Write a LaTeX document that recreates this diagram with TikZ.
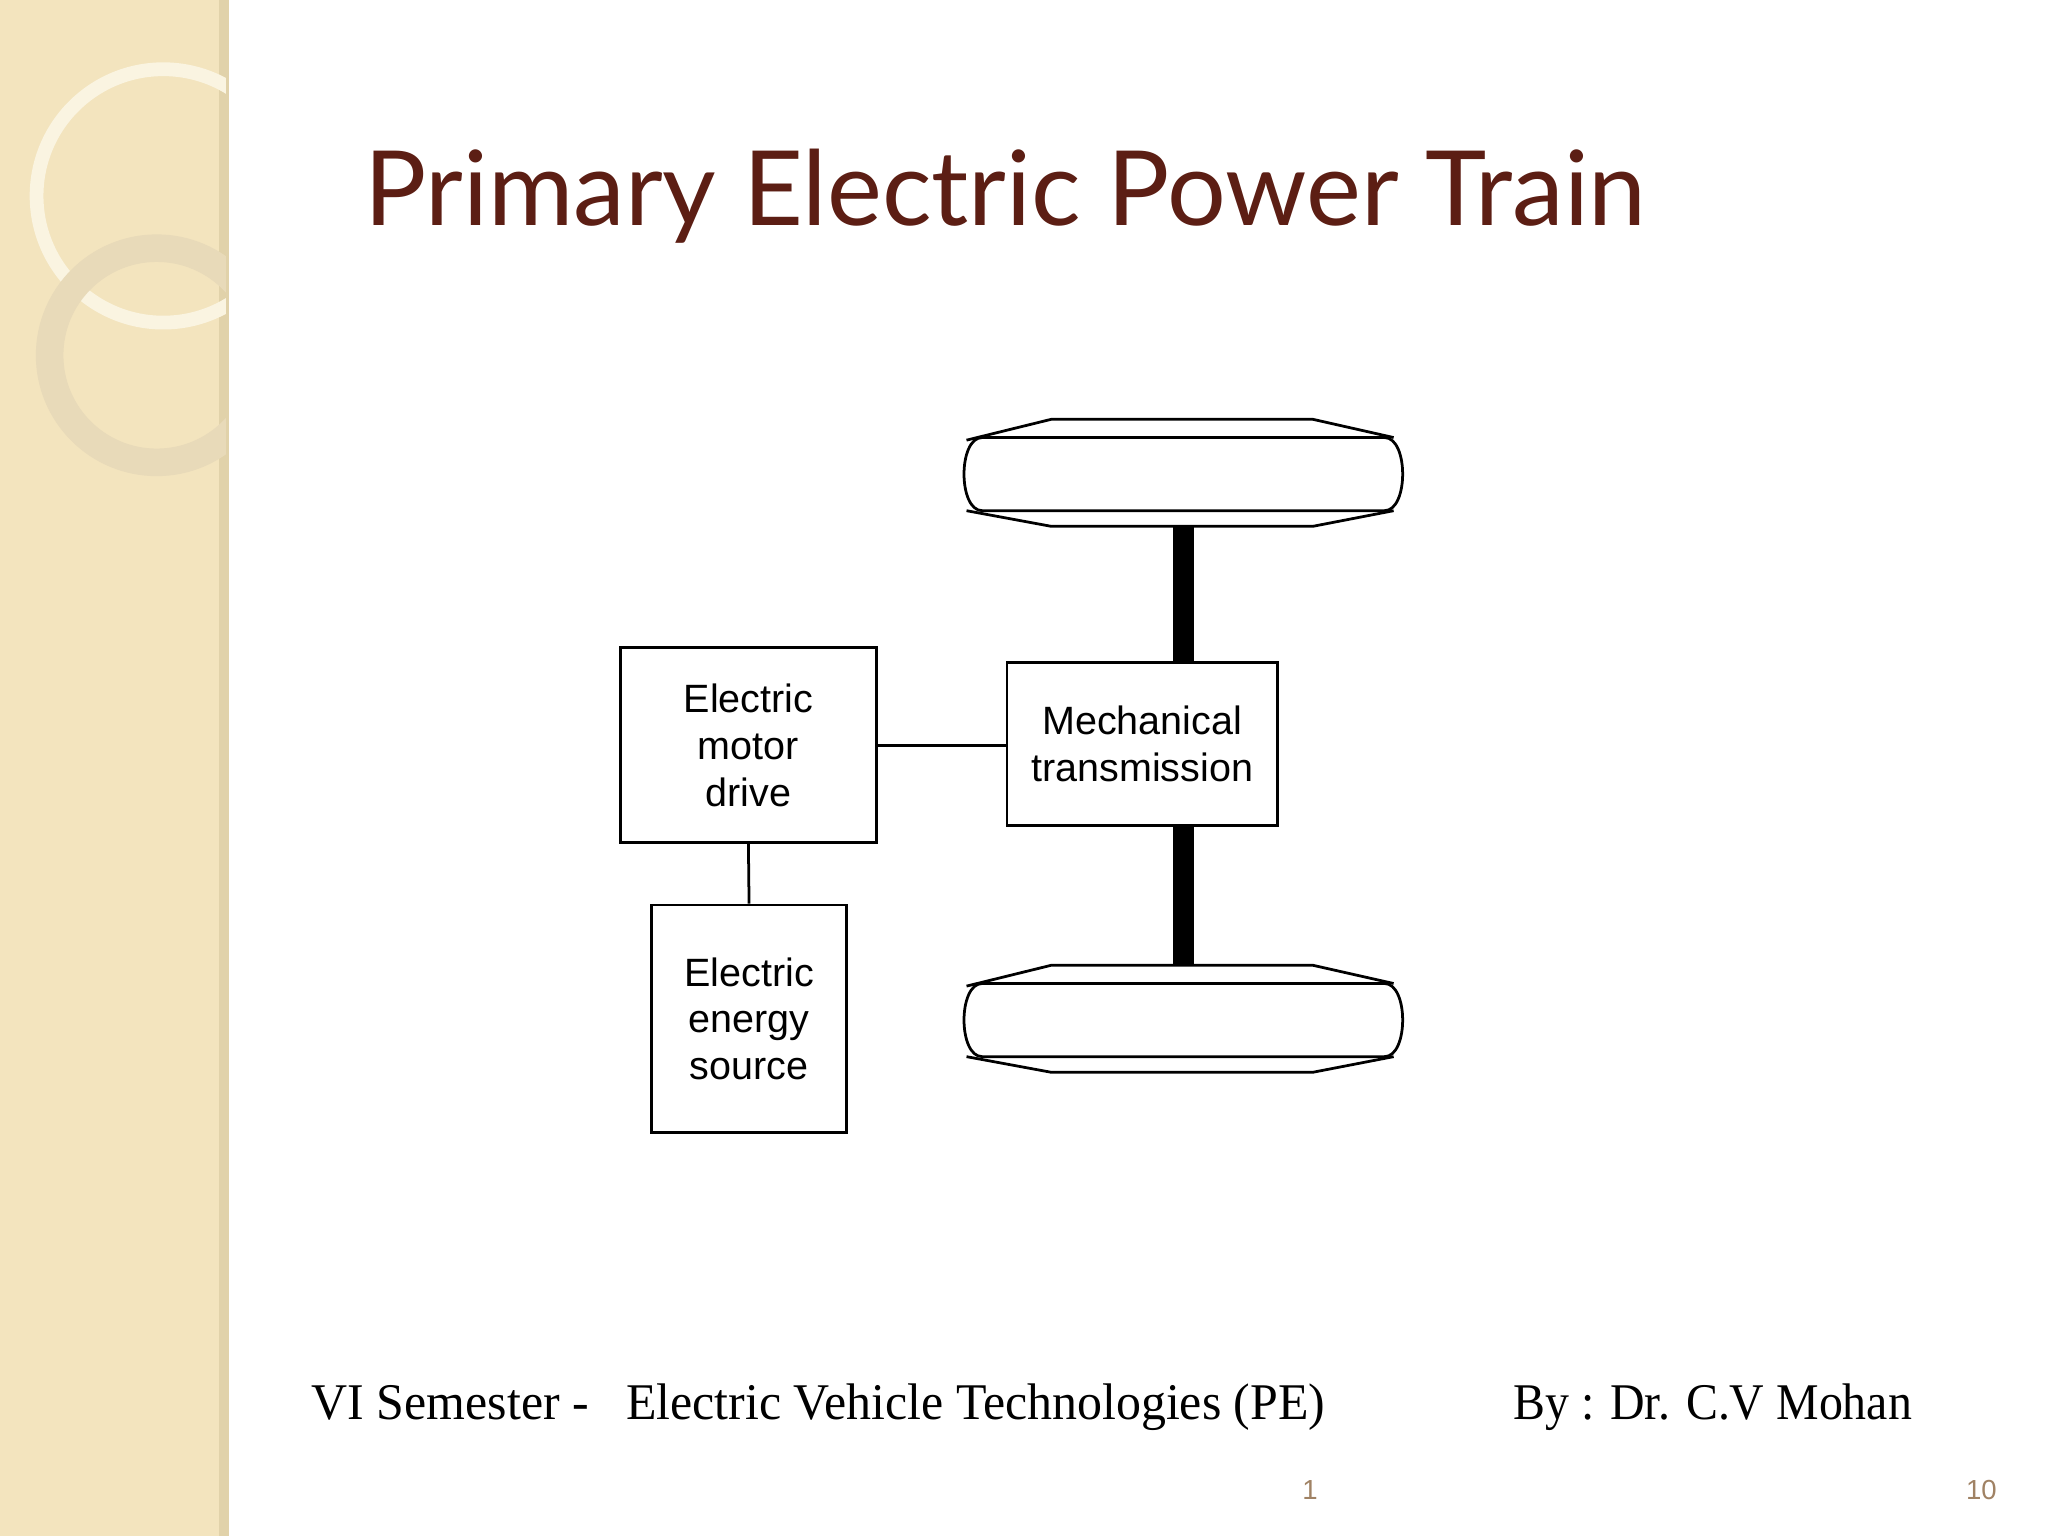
\documentclass[tikz,border=0pt]{standalone}
\usepackage{fontspec}
\setmainfont{Liberation Sans}
\newfontfamily\ttl{Lato}
\newfontfamily\ser{Liberation Serif}
\begin{document}
\begin{tikzpicture}[x=0.01cm,y=-0.01cm,
  box/.style={draw,line width=0.6pt,align=center,font=\fontsize{8.6}{10.2}\selectfont,inner sep=0},
  wheel/.style={line width=0.6pt}]
\useasboundingbox (0,0) rectangle (1568,1176);
\fill[white] (0,0) rectangle (1568,1176);
\fill[color={rgb,255:red,243;green,228;blue,190}] (0,0) rectangle (173,1176);
\fill[color={rgb,255:red,225;green,210;blue,170}] (168,0) rectangle (175,1176);
\begin{scope}
\clip (0,0) rectangle (173,1176);
\draw[line width=3pt,color={rgb,255:red,250;green,244;blue,225}] (125,150) circle[radius=97];
\draw[line width=6pt,color={rgb,255:red,232;green,218;blue,185}] (120,272) circle[radius=82];
\end{scope}
\node[anchor=base west,font=\ttl\fontsize{22.6}{26}\selectfont,color={rgb,255:red,92;green,30;blue,20},inner sep=0] (title) at (278,173) {Primary Electric Power Train};
% wheels
\foreach \y in {321,739}{
  \draw[wheel] (740,\y+16) -- (805,\y) -- (1005,\y) -- (1067,\y+14);
  \draw[wheel] (740,\y+70) -- (805,\y+82) -- (1005,\y+82) -- (1067,\y+70);
  \draw[wheel] (752,\y+14) -- (1060,\y+14) to[out=0,in=0,looseness=0.85] (1060,\y+70) -- (752,\y+70) to[out=180,in=180,looseness=0.85] (752,\y+14);
}
\coordinate (twb) at (906,403);
\coordinate (bwt) at (906,739);
\node[box,minimum width=2.07cm,minimum height=1.25cm] (mt) at (874.5,569.5) {Mechanical\\transmission};
\node[box,minimum width=1.96cm,minimum height=1.49cm] (md) at (573,570.5) {Electric\\motor\\drive};
\node[box,minimum width=1.49cm,minimum height=1.74cm] (es) at (573.5,780) {Electric\\energy\\source};
\draw[line width=4.5pt] (twb) -- (twb|-mt.north);
\draw[line width=4.5pt] (bwt|-mt.south) -- (bwt);
\draw[line width=0.6pt] (md.east) -- (md.east-|mt.west);
\draw[line width=0.6pt] (md.south) -- (es.north);
\node[anchor=base west,font=\ser\fontsize{11.2}{13}\selectfont,inner sep=0,xscale=0.97] (f1) at (238,1087) {VI Semester -\ \ \ Electric Vehicle Technologies (PE)};
\node[anchor=base west,font=\ser\fontsize{11.2}{13}\selectfont,inner sep=0,xscale=0.93] (f2) at (1158,1087) {By : Dr. C.V Mohan};
\node[anchor=base,font=\fontsize{6}{7}\selectfont,color={rgb,255:red,160;green,130;blue,100}] (p1) at (1003,1148) {1};
\node[anchor=base,font=\fontsize{6}{7}\selectfont,color={rgb,255:red,160;green,130;blue,100}] (p2) at (1517,1148) {10};
\end{tikzpicture}
\end{document}
